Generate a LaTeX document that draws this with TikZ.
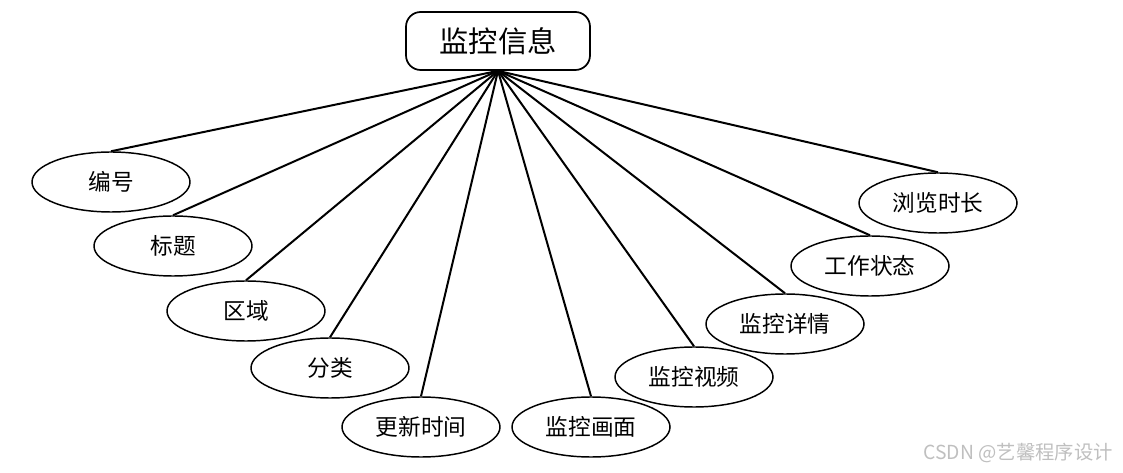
\documentclass[tikz,border=0pt]{standalone}
\usepackage{fontspec}
\setmainfont{Noto Sans CJK SC}
\usetikzlibrary{shapes.geometric}
\usetikzlibrary{positioning}

\begin{document}
\begin{tikzpicture}[x=0.75pt, y=-0.75pt,
 topnode/.style={rectangle, rounded corners=11pt, draw=black, fill=white, line width=1.3pt, minimum width=138pt, minimum height=43.5pt, inner sep=0pt, font=\fontsize{22}{26}\selectfont},
 ellinode/.style={ellipse, draw=black, fill=white, line width=1.1pt, minimum width=118.5pt, minimum height=45pt, inner sep=0pt, font=\fontsize{17}{20}\selectfont},
 linkline/.style={line width=1.5pt}
 ]
 \useasboundingbox (0,0) rectangle (1123,473);

 %Nodes
 \node[topnode]   (info_node)    at (498,41)  {监控信息};
 \node[ellinode]  (id_node)      at (111,182) {编号};
 \node[ellinode]  (title_node)   at (173,246) {标题};
 \node[ellinode]  (area_node)    at (246,311) {区域};
 \node[ellinode]  (class_node)   at (330,368) {分类};
 \node[ellinode]  (time_node)    at (421,427) {更新时间};
 \node[ellinode]  (screen_node)  at (591,427) {监控画面};
 \node[ellinode]  (video_node)   at (694,377) {监控视频};
 \node[ellinode]  (detail_node)  at (785,324) {监控详情};
 \node[ellinode]  (state_node)   at (870,266) {工作状态};
 \node[ellinode]  (browse_node)  at (938,203) {浏览时长};

 \node[text=black!25, font=\fontsize{14.5}{17}\selectfont, anchor=east, inner sep=0pt] (mark_node) at (1113,453) {CSDN @艺馨程序设计};

 %Lines
 \draw[linkline] (info_node.south) -- (id_node.north);
 \draw[linkline] (info_node.south) -- (title_node.north);
 \draw[linkline] (info_node.south) -- (area_node.north);
 \draw[linkline] (info_node.south) -- (class_node.north);
 \draw[linkline] (info_node.south) -- (time_node.north);
 \draw[linkline] (info_node.south) -- (screen_node.north);
 \draw[linkline] (info_node.south) -- (video_node.north);
 \draw[linkline] (info_node.south) -- (detail_node.north);
 \draw[linkline] (info_node.south) -- (state_node.north);
 \draw[linkline] (info_node.south) -- (browse_node.north);
\end{tikzpicture}
\end{document}
